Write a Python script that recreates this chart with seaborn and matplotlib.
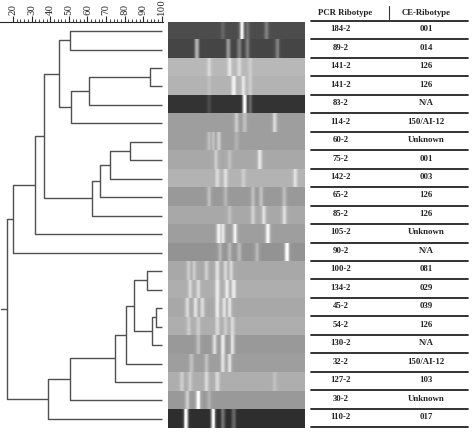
import numpy as np
import matplotlib
matplotlib.use("Agg")
import matplotlib.pyplot as plt
import seaborn as sns

# Table content (top to bottom)
pcr_ribotypes = ["184-2", "89-2", "141-2", "141-2", "83-2", "114-2", "60-2", "75-2", "142-2",
                 "65-2", "85-2", "105-2", "90-2", "100-2", "134-2", "45-2", "54-2", "130-2",
                 "32-2", "127-2", "30-2", "110-2"]
ce_ribotypes = ["001", "014", "126", "126", "N/A", "150/AI-12", "Unknown", "001", "003",
                "126", "126", "Unknown", "N/A", "081", "029", "039", "126", "N/A",
                "150/AI-12", "103", "Unknown", "017"]

# Dendrogram merges: (left cluster, right cluster, similarity %), clusters are leaf ids or "cN"
merges = [
    (0, 1, 50.7),          # c0
    (2, 3, 93.8),          # c1
    ("c1", 4, 60.9),       # c2
    ("c2", 5, 51.4),       # c3
    ("c0", "c3", 44.8),    # c4
    (6, 7, 82.7),          # c5
    ("c5", 8, 72.0),       # c6
    ("c6", 9, 67.0),       # c7
    ("c7", 10, 62.5),      # c8
    ("c4", "c8", 36.8),    # c9
    ("c9", 11, 32.0),      # c10
    ("c10", 12, 19.8),     # c11
    (13, 14, 92.0),        # c12
    (15, 16, 97.0),        # c13
    ("c13", 17, 94.6),     # c14
    ("c12", "c14", 84.8),  # c15
    ("c15", 18, 80.5),     # c16
    ("c16", 19, 74.6),     # c17
    ("c17", 20, 50.7),     # c18
    ("c18", 21, 38.6),     # c19
    ("c11", "c19", 16.6),  # c20
]

# Gel lanes: background gray and bands (position fraction, brightness)
lane_bg = [.3, .27, .72, .7, .2, .62, .62, .66, .7, .6, .66, .62, .58, .66, .68, .66, .68,
           .6, .62, .68, .6, .18]
lane_bands = [
    [(0.54, 1.0), (0.58, .45), (0.72, .5), (0.40, .4)],
    [(0.21, .7), (0.44, .6), (0.52, .5), (0.58, .5), (0.80, .5)],
    [(0.30, .85), (0.45, .9), (0.52, .85), (0.60, .8)],
    [(0.30, .75), (0.48, .95), (0.55, .9), (0.60, .8)],
    [(0.56, 1.0), (0.60, .4), (0.30, .3)],
    [(0.50, .8), (0.56, .75), (0.78, .85)],
    [(0.30, .75), (0.33, .75), (0.37, .8), (0.50, .7)],
    [(0.35, .8), (0.45, .75), (0.67, .9)],
    [(0.36, .85), (0.42, .88), (0.55, .8), (0.93, .88)],
    [(0.30, .75), (0.42, .72), (0.62, .75), (0.68, .75), (0.85, .75)],
    [(0.45, .75), (0.62, .82), (0.70, .88), (0.85, .88)],
    [(0.37, .95), (0.40, .9), (0.49, .95), (0.73, 1.0)],
    [(0.38, .72), (0.45, .72), (0.52, .72), (0.65, .72), (0.87, 1.0)],
    [(0.15, .8), (0.19, .8), (0.28, .8), (0.36, .88), (0.42, .85), (0.46, .85)],
    [(0.16, .85), (0.22, .85), (0.36, .92), (0.43, .92), (0.48, .92)],
    [(0.14, .85), (0.20, .88), (0.25, .85), (0.36, .92), (0.41, .88), (0.45, .88)],
    [(0.15, .8), (0.22, .8), (0.36, .85), (0.42, .8), (0.47, .85)],
    [(0.22, .75), (0.34, .88), (0.40, .92), (0.47, .88)],
    [(0.17, .75), (0.28, .75), (0.40, .88), (0.45, .88)],
    [(0.10, .8), (0.16, .8), (0.28, .85), (0.36, .85), (0.78, .75)],
    [(0.14, .8), (0.22, 1.0), (0.30, .7)],
    [(0.13, 1.0), (0.33, 1.0), (0.40, .45), (0.48, .4)],
]

sns.set_style("white")
W, H = 474, 440
fig = plt.figure(figsize=(W / 100, H / 100), dpi=100)
n = len(pcr_ribotypes)
ylim = (n - 1 + 1.14, -0.49)
ax_h = 418 / H

# --- dendrogram ---
ax = fig.add_axes([0, 0, 163 / W, ax_h])
pos = {}   # cluster -> (y, x)
for i in range(n):
    pos[i] = (i, 100)
lc = "#505050"
for k, (a, b, h) in enumerate(merges):
    ya, xa = pos[a]
    yb, xb = pos[b]
    ax.plot([xa, h, h, xb], [ya, ya, yb, yb], color=lc, lw=1.0, solid_capstyle="butt")
    pos[f"c{k}"] = ((ya + yb) / 2, h)
yr, xr = pos[f"c{len(merges) - 1}"]
ax.plot([xr, 13.5], [yr, yr], color=lc, lw=1.0)
ax.set_xlim(13.0, 100.6)
ax.set_ylim(*ylim)
ax.xaxis.tick_top()
ax.set_xticks(np.arange(20, 101, 10))
ax.set_xticks(np.arange(20, 101, 2), minor=True)
ax.tick_params(axis="x", which="major", length=4, labelsize=6.2, rotation=90, pad=1, width=0.8)
ax.tick_params(axis="x", which="minor", length=2, width=0.6)
ax.set_yticks([])
for s in ["left", "right", "bottom"]:
    ax.spines[s].set_visible(False)
ax.spines["top"].set_linewidth(0.8)
for t in ax.get_xticklabels():
    t.set_family("DejaVu Serif")

# --- gel image ---
axg = fig.add_axes([168 / W, 0, 137 / W, ax_h])
ncol = 300
xs = np.linspace(0, 1, ncol)
img = np.zeros((n, ncol))
for i in range(n):
    row = np.full(ncol, lane_bg[i])
    for p, s in lane_bands[i]:
        row = np.maximum(row, lane_bg[i] + (s - lane_bg[i]) * np.exp(-((xs - p) / 0.016) ** 2))
    img[i] = row
axg.imshow(img, cmap="gray", vmin=0, vmax=1, aspect="auto", extent=(0, 1, n - 0.5, -0.5),
           interpolation="nearest")
axg.set_ylim(*ylim)
axg.axis("off")

# --- table ---
axt = fig.add_axes([308 / W, 0, 162 / W, ax_h])
axt.set_xlim(0, 1)
axt.set_ylim(*ylim)
axt.axis("off")
fp = dict(family="Liberation Serif", fontweight="bold", fontsize=6.3, color="#222222")
axt.text(0.23, -1.0, "PCR Ribotype", ha="center", va="center", **fp)
axt.text(0.73, -1.0, "CE-Ribotype", ha="center", va="center", **fp)
axt.plot([0.5, 0.5], [-1.35, -0.65], color="#333", lw=0.8, clip_on=False)
for i in range(n):
    axt.text(0.2, i - 0.1, pcr_ribotypes[i], ha="center", va="center", **fp)
    axt.text(0.73, i - 0.1, ce_ribotypes[i], ha="center", va="center", **fp)
for i in range(n + 1):
    axt.plot([0.02, 0.99], [i - 0.55, i - 0.55], color="#222", lw=1.3, clip_on=False)

fig.savefig("out.png", dpi=100)
